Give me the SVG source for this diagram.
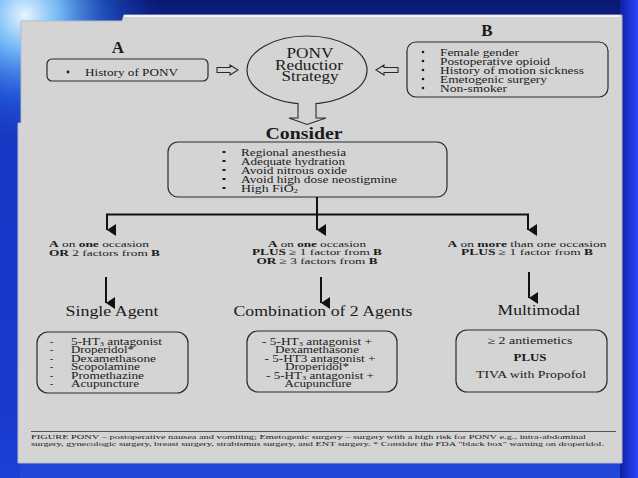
<svg xmlns="http://www.w3.org/2000/svg" width="638" height="478" viewBox="0 0 638 478">
<defs>
<linearGradient id="bg" x1="0" y1="0" x2="0" y2="1">
<stop offset="0" stop-color="#0a1872"/>
<stop offset="0.15" stop-color="#1530b0"/>
<stop offset="0.85" stop-color="#1838c8"/>
<stop offset="1" stop-color="#2348d8"/>
</linearGradient>
<radialGradient id="glow" cx="25" cy="15" r="140" gradientUnits="userSpaceOnUse">
<stop offset="0" stop-color="#e8f6ff"/>
<stop offset="0.25" stop-color="#7cc8ff" stop-opacity="0.9"/>
<stop offset="0.6" stop-color="#2a70e8" stop-opacity="0.5"/>
<stop offset="1" stop-color="#1530b0" stop-opacity="0"/>
</radialGradient>
<linearGradient id="rside" x1="0" y1="0" x2="1" y2="0">
<stop offset="0" stop-color="#1020a0"/>
<stop offset="1" stop-color="#2a44ff"/>
</linearGradient>
<marker id="ah" viewBox="0 0 12 9" refX="6" refY="9" markerWidth="12" markerHeight="9" markerUnits="userSpaceOnUse" orient="auto-start-reverse">
<path d="M0,0 L12,0 L6,9 Z" fill="#111"/>
</marker>
<style>
text{font-family:"Liberation Serif","Times New Roman",serif;fill:#1a1a1a}
.lab{font-size:17px;font-weight:bold}
.li{font-size:9.5px}
.br{font-size:9px}
.tt{font-size:14px}
.cap{font-size:6.5px}
.sub{font-size:6px}
.box{fill:none;stroke:#2a2a2a;stroke-width:1.2}
.hol{fill:#d4d4d4;stroke:#2a2a2a;stroke-width:1.1}
.ln{stroke:#111;stroke-width:2;fill:none}
.b{font-weight:bold}
</style>
</defs>
<rect width="638" height="478" fill="url(#bg)"/>
<rect x="620" y="0" width="18" height="478" fill="url(#rside)"/>
<rect x="0" y="0" width="20" height="478" fill="#1a3ad0" opacity="0.6"/>
<rect width="638" height="478" fill="url(#glow)"/>
<path d="M21,21 L122,21 L124,15 L622,15 L622,463 L18,463 L18,123 L21,123 Z" fill="#d4d4d4" stroke="#b8b8c8" stroke-width="1"/>
<line x1="124" y1="16" x2="620" y2="16" stroke="#f4f4f4" stroke-width="2"/>

<g id="labelA"><text class="lab" x="118" y="53" text-anchor="middle">A</text></g>
<g id="labelB"><text class="lab" x="487" y="36" text-anchor="middle">B</text></g>

<g id="boxA">
<rect class="box" x="47" y="59" width="161" height="22" rx="5"/>
<circle cx="68" cy="72" r="1.4" fill="#1a1a1a"/>
<text class="li" x="85" y="75.5" textLength="93" lengthAdjust="spacingAndGlyphs">History of PONV</text>
</g>

<g id="boxB">
<rect class="box" x="407" y="42" width="201" height="55" rx="9"/>
<g fill="#1a1a1a">
<circle cx="423" cy="52" r="1.3"/><circle cx="423" cy="61" r="1.3"/><circle cx="423" cy="70" r="1.3"/><circle cx="423" cy="79" r="1.3"/><circle cx="423" cy="88" r="1.3"/>
</g>
<text class="li" x="440" y="55.5" textLength="79" lengthAdjust="spacingAndGlyphs">Female gender</text>
<text class="li" x="440" y="64.5" textLength="110" lengthAdjust="spacingAndGlyphs">Postoperative opioid</text>
<text class="li" x="440" y="73.5" textLength="144" lengthAdjust="spacingAndGlyphs">History of motion sickness</text>
<text class="li" x="440" y="82.5" textLength="107" lengthAdjust="spacingAndGlyphs">Emetogenic surgery</text>
<text class="li" x="440" y="91.5" textLength="67" lengthAdjust="spacingAndGlyphs">Non-smoker</text>
</g>

<g id="strategy">
<ellipse cx="307" cy="70" rx="60" ry="34" fill="none" stroke="#2a2a2a" stroke-width="1.2"/>
<text class="tt" x="310" y="58" text-anchor="middle" textLength="47" lengthAdjust="spacingAndGlyphs">PONV</text>
<text class="tt" x="309" y="70" text-anchor="middle" textLength="68" lengthAdjust="spacingAndGlyphs">Reductior</text>
<text class="tt" x="310" y="81" text-anchor="middle" textLength="57" lengthAdjust="spacingAndGlyphs">Strategy</text>
</g>

<g id="consider">
<text x="304" y="139" text-anchor="middle" style="font-size:16px;font-weight:bold" textLength="77" lengthAdjust="spacingAndGlyphs">Consider</text>
<rect class="box" x="168" y="142" width="279" height="55" rx="10"/>
<g fill="#1a1a1a">
<rect x="222.5" y="151" width="3" height="2"/><rect x="222.5" y="160" width="3" height="2"/><rect x="222.5" y="169" width="3" height="2"/><rect x="222.5" y="178" width="3" height="2"/><rect x="222.5" y="187" width="3" height="2"/>
</g>
<text class="li" x="241" y="155.5" textLength="105" lengthAdjust="spacingAndGlyphs">Regional anesthesia</text>
<text class="li" x="241" y="164.5" textLength="104" lengthAdjust="spacingAndGlyphs">Adequate hydration</text>
<text class="li" x="241" y="173.5" textLength="106" lengthAdjust="spacingAndGlyphs">Avoid nitrous oxide</text>
<text class="li" x="241" y="182.5" textLength="156" lengthAdjust="spacingAndGlyphs">Avoid high dose neostigmine</text>
<text class="li" x="241" y="191.5" textLength="57" lengthAdjust="spacingAndGlyphs">High FiO<tspan class="sub" dy="1.5">2</tspan></text>
</g>

<g id="connectors">
<path class="hol" d="M217,67.5 L230,67.5 L230,65 L238,70 L230,75 L230,72.5 L217,72.5 Z"/>
<path class="hol" d="M398,67.5 L384,67.5 L384,65 L376,70 L384,75 L384,72.5 L398,72.5 Z"/>
<path class="hol" d="M298,103 L298,118 L289,118 L307,124.5 L326,118 L316,118 L316,103"/>
<line class="ln" x1="317" y1="197" x2="317" y2="230" marker-end="url(#ah)"/>
<line class="ln" x1="106" y1="214.5" x2="529" y2="214.5"/>
<line class="ln" x1="107" y1="214" x2="107" y2="230" marker-end="url(#ah)"/>
<line class="ln" x1="528" y1="214" x2="528" y2="230" marker-end="url(#ah)"/>
<line class="ln" x1="106" y1="277" x2="106" y2="303" marker-end="url(#ah)"/>
<line class="ln" x1="321" y1="277" x2="321" y2="303" marker-end="url(#ah)"/>
<line class="ln" x1="529" y1="272" x2="529" y2="298" marker-end="url(#ah)"/>
</g>

<g id="condLeft">
<text class="br" x="49" y="247" textLength="100" lengthAdjust="spacingAndGlyphs"><tspan class="b">A</tspan> on <tspan class="b">one</tspan> occasion</text>
<text class="br" x="49" y="255.5" textLength="111" lengthAdjust="spacingAndGlyphs"><tspan class="b">OR</tspan> 2 factors from <tspan class="b">B</tspan></text>
</g>
<g id="condMid">
<text class="br" x="317" y="246.5" text-anchor="middle" textLength="98" lengthAdjust="spacingAndGlyphs"><tspan class="b">A</tspan> on <tspan class="b">one</tspan> occasion</text>
<text class="br" x="317" y="255" text-anchor="middle" textLength="130" lengthAdjust="spacingAndGlyphs"><tspan class="b">PLUS</tspan> ≥ 1 factor from <tspan class="b">B</tspan></text>
<text class="br" x="317" y="263.5" text-anchor="middle" textLength="121" lengthAdjust="spacingAndGlyphs"><tspan class="b">OR</tspan> ≥ 3 factors from <tspan class="b">B</tspan></text>
</g>
<g id="condRight">
<text class="br" x="527" y="246.5" text-anchor="middle" textLength="159" lengthAdjust="spacingAndGlyphs"><tspan class="b">A</tspan> on <tspan class="b">more</tspan> than one occasion</text>
<text class="br" x="527" y="255" text-anchor="middle" textLength="132" lengthAdjust="spacingAndGlyphs"><tspan class="b">PLUS</tspan> ≥ 1 factor from <tspan class="b">B</tspan></text>
</g>

<g id="single">
<text class="tt" x="112" y="316" text-anchor="middle" textLength="93" lengthAdjust="spacingAndGlyphs">Single Agent</text>
<rect class="box" x="37" y="332" width="151" height="61" rx="11"/>
<g class="li">
<text x="50" y="344.5">-</text><text x="50" y="352.5">-</text><text x="50" y="361.5">-</text><text x="50" y="370">-</text><text x="50" y="378.5">-</text><text x="50" y="387">-</text>
</g>
<text class="li" x="71" y="344.5" textLength="91" lengthAdjust="spacingAndGlyphs">5-HT<tspan class="sub" dy="1">3</tspan><tspan dy="-1"> antagonist</tspan></text>
<text class="li" x="71" y="352.5" textLength="63" lengthAdjust="spacingAndGlyphs">Droperidol*</text>
<text class="li" x="71" y="361.5" textLength="85" lengthAdjust="spacingAndGlyphs">Dexamethasone</text>
<text class="li" x="71" y="370" textLength="69" lengthAdjust="spacingAndGlyphs">Scopolamine</text>
<text class="li" x="71" y="378.5" textLength="73" lengthAdjust="spacingAndGlyphs">Promethazine</text>
<text class="li" x="71" y="387" textLength="68" lengthAdjust="spacingAndGlyphs">Acupuncture</text>
</g>

<g id="combination">
<text class="tt" x="323" y="316" text-anchor="middle" textLength="179" lengthAdjust="spacingAndGlyphs">Combination of 2 Agents</text>
<rect class="box" x="247" y="331" width="150" height="61" rx="11"/>
<text class="li" x="317" y="344.5" text-anchor="middle" textLength="110" lengthAdjust="spacingAndGlyphs">- 5-HT<tspan class="sub" dy="1">3</tspan><tspan dy="-1"> antagonist +</tspan></text>
<text class="li" x="317" y="352.5" text-anchor="middle" textLength="84" lengthAdjust="spacingAndGlyphs">Dexamethasone</text>
<text class="li" x="320" y="361.5" text-anchor="middle" textLength="111" lengthAdjust="spacingAndGlyphs">- 5-HT3 antagonist +</text>
<text class="li" x="317" y="370" text-anchor="middle" textLength="64" lengthAdjust="spacingAndGlyphs">Droperidol*</text>
<text class="li" x="320" y="378.5" text-anchor="middle" textLength="108" lengthAdjust="spacingAndGlyphs">- 5-HT<tspan class="sub" dy="1">3</tspan><tspan dy="-1"> antagonist +</tspan></text>
<text class="li" x="318" y="386.5" text-anchor="middle" textLength="67" lengthAdjust="spacingAndGlyphs">Acupuncture</text>
</g>

<g id="multimodal">
<text class="tt" x="539" y="315" text-anchor="middle" textLength="83" lengthAdjust="spacingAndGlyphs">Multimodal</text>
<rect class="box" x="456" y="330" width="151" height="62" rx="11"/>
<text class="li" x="530" y="343.5" text-anchor="middle" textLength="85" lengthAdjust="spacingAndGlyphs">≥ 2 antiemetics</text>
<text class="li b" x="530" y="361" text-anchor="middle" textLength="33" lengthAdjust="spacingAndGlyphs">PLUS</text>
<text class="li" x="531" y="377.5" text-anchor="middle" textLength="110" lengthAdjust="spacingAndGlyphs">TIVA with Propofol</text>
</g>

<g id="caption">
<line x1="31" y1="431.5" x2="616" y2="431.5" stroke="#333" stroke-width="0.8"/>
<text class="cap" x="31" y="438.5" textLength="555" lengthAdjust="spacingAndGlyphs">FIGURE  PONV – postoperative nausea and vomiting; Emetogenic surgery – surgery with a high risk for PONV e.g., intra-abdominal</text>
<text class="cap" x="31" y="446" textLength="573" lengthAdjust="spacingAndGlyphs">surgery, gynecologic surgery, breast surgery, strabismus surgery, and ENT surgery. * Consider the FDA "black box" warning on droperidol.</text>
</g>
</svg>
